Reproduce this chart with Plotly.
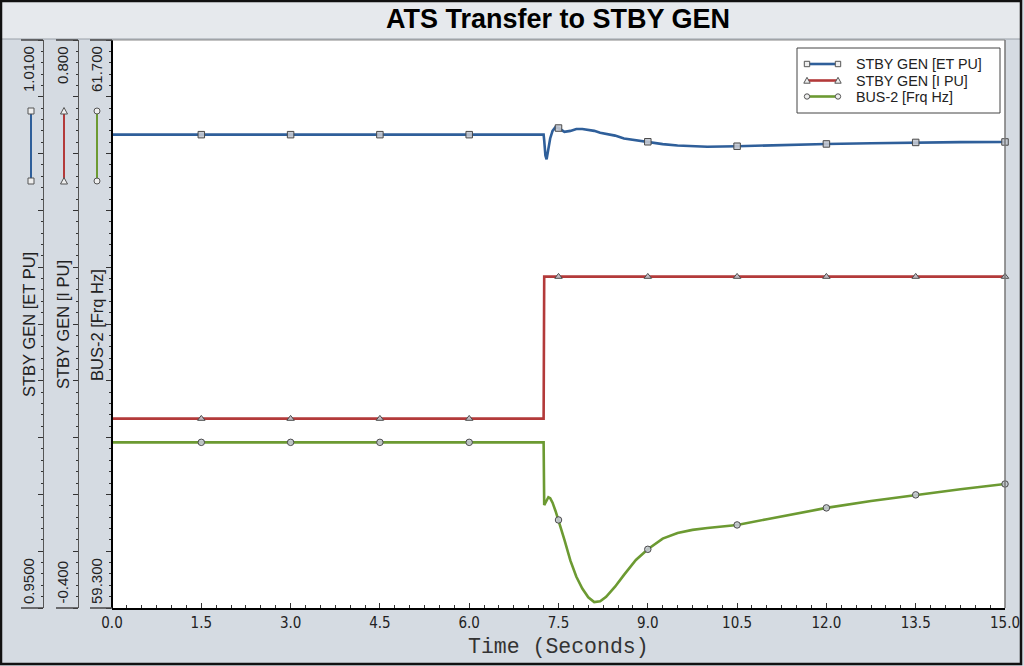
import plotly.graph_objects as go

# ---------------- data ----------------
time_s = [0.0, 1.5, 3.0, 4.5, 6.0, 7.2, 7.25, 7.26, 7.28, 7.3, 7.33, 7.36, 7.4, 7.45,
          7.5, 7.6, 7.7, 7.8, 7.9, 8.0, 8.1, 8.2, 8.3, 8.45, 8.6, 8.8, 9.0, 9.25,
          9.5, 9.75, 10.0, 10.5, 11.0, 11.5, 12.0, 12.75, 13.5, 14.25, 15.0]

stby_et_pu = [1.0000, 1.0000, 1.0000, 1.0000, 1.0000, 1.0000, 1.0000, 0.9994, 0.9978,
              0.9974, 0.9984, 0.9996, 1.0004, 1.0008, 1.0007, 1.0003, 1.0004, 1.0006,
              1.0006, 1.0005, 1.0004, 1.0002, 1.0001, 0.9999, 0.9996, 0.9994, 0.99925,
              0.9990, 0.99885, 0.99875, 0.99872, 0.99878, 0.99888, 0.99895, 0.99902,
              0.9991, 0.99918, 0.99921, 0.99923]

stby_i_pu = [0.0, 0.0, 0.0, 0.0, 0.0, 0.0, 0.0, 0.3, 0.3, 0.3, 0.3, 0.3, 0.3, 0.3,
             0.3, 0.3, 0.3, 0.3, 0.3, 0.3, 0.3, 0.3, 0.3, 0.3, 0.3, 0.3, 0.3, 0.3,
             0.3, 0.3, 0.3, 0.3, 0.3, 0.3, 0.3, 0.3, 0.3, 0.3, 0.3]

bus2_frq_hz = [60.0, 60.0, 60.0, 60.0, 60.0, 60.0, 60.0, 59.735, 59.745, 59.758,
               59.768, 59.764, 59.745, 59.71, 59.672, 59.588, 59.500, 59.432, 59.382,
               59.345, 59.325, 59.328, 59.347, 59.39, 59.44, 59.503, 59.548, 59.593,
               59.617, 59.630, 59.638, 59.651, 59.675, 59.70, 59.723, 59.752, 59.778,
               59.802, 59.824]

series_names = ["STBY GEN [ET PU]", "STBY GEN [I PU]", "BUS-2 [Frq Hz]"]
axis_ranges = {"et": [0.95, 1.01], "i": [-0.4, 0.8], "frq": [59.3, 61.7]}
top_labels = ["1.0100", "0.800", "61.700"]
bottom_labels = ["0.9500", "-0.400", "59.300"]
title_text = "ATS Transfer to STBY GEN"
x_title = "Time (Seconds)"

# ---------------- styling helpers ----------------
W, H = 1024, 666
def px(x):
    return x / W
def py(y):
    return 1 - y / H

BLUE, RED, GREEN = "#2f5f9a", "#b33a3a", "#6c9a32"
FONT = "Liberation Sans, Arial, sans-serif"
PLOT_L, PLOT_R, PLOT_T, PLOT_B = 112, 1005, 40, 608
ydom = [py(PLOT_B), py(PLOT_T)]

mark_idx = [i for i, t in enumerate(time_s) if t > 0 and abs(t / 1.5 - round(t / 1.5)) < 1e-9]

fig = go.Figure()

specs = [
    (stby_et_pu, "y2", BLUE, "square"),
    (stby_i_pu, "y3", RED, "triangle-up"),
    (bus2_frq_hz, "y", GREEN, "circle"),
]
for (vals, ax, col, sym), name in zip(specs, series_names):
    fig.add_trace(go.Scatter(x=time_s, y=vals, yaxis=ax, mode="lines", name=name,
                             line=dict(color=col, width=2.6), showlegend=False,
                             hoverinfo="skip"))
    fig.add_trace(go.Scatter(x=[time_s[i] for i in mark_idx], y=[vals[i] for i in mark_idx],
                             yaxis=ax, mode="markers", showlegend=False, cliponaxis=False,
                             marker=dict(symbol=sym, size=6.5, color="rgba(195,200,208,0.9)",
                                         line=dict(color="#4a4a4a", width=1))))

tick_col = "#333"
common_y = dict(domain=ydom, showgrid=False, zeroline=False, showticklabels=False,
                ticks="outside", ticklen=5, tickwidth=1, tickcolor=tick_col, showline=True,
                automargin=False)

fig.update_layout(
    width=W, height=H, showlegend=False,
    margin=dict(l=0, r=0, t=0, b=0, pad=0, autoexpand=False),
    paper_bgcolor="#d5dbe2",
    plot_bgcolor="white",
    title=dict(text="<b>" + title_text + "</b>", x=px(558), y=py(19), xanchor="center",
               yanchor="middle", font=dict(family=FONT, size=27, color="#000")),
    xaxis=dict(domain=[px(PLOT_L), px(PLOT_R)], range=[0, 15], anchor="y", automargin=False,
               showgrid=False, zeroline=False, showline=True, linecolor="#000", linewidth=2,
               ticks="inside", ticklen=5, tickcolor=tick_col, tick0=0, dtick=1.5,
               tickformat=".1f",
               minor=dict(ticks="inside", ticklen=3, tickcolor=tick_col, dtick=0.25, tick0=0),
               tickfont=dict(family="Liberation Sans Narrow, DejaVu Sans Condensed, Roboto Condensed, Arial Narrow, Liberation Sans",
                             size=15, color="#222")),
    yaxis=dict(range=axis_ranges["frq"], anchor="free", position=px(PLOT_L),
               linecolor="#000", linewidth=2, tick0=59.3, dtick=0.24,
               minor=dict(ticks="outside", ticklen=2.5, tickcolor=tick_col, dtick=0.048, tick0=59.3),
               **common_y),
    yaxis2=dict(range=axis_ranges["et"], anchor="free", position=px(43), overlaying="y",
                linecolor="#555", linewidth=1, tick0=0.95, dtick=0.006,
                minor=dict(ticks="outside", ticklen=2.5, tickcolor=tick_col, dtick=0.0012, tick0=0.95),
                **common_y),
    yaxis3=dict(range=axis_ranges["i"], anchor="free", position=px(78), overlaying="y",
                linecolor="#555", linewidth=1, tick0=-0.4, dtick=0.12,
                minor=dict(ticks="outside", ticklen=2.5, tickcolor=tick_col, dtick=0.024, tick0=-0.4),
                **common_y),
)

shapes = []
ann = []


def glyph(kind, gx, gy, r=3.0):
    if kind == "sq":
        return dict(type="rect", xref="paper", yref="paper", x0=px(gx - r), x1=px(gx + r),
                    y0=py(gy + r), y1=py(gy - r), fillcolor="#eeeeee",
                    line=dict(color="#555", width=1))
    if kind == "circ":
        return dict(type="circle", xref="paper", yref="paper", x0=px(gx - r), x1=px(gx + r),
                    y0=py(gy + r), y1=py(gy - r), fillcolor="#eeeeee",
                    line=dict(color="#555", width=1))
    path = "M {} {} L {} {} L {} {} Z".format(px(gx - r - 0.5), py(gy + r), px(gx + r + 0.5), py(gy + r),
                                              px(gx), py(gy - r - 0.5))
    return dict(type="path", xref="paper", yref="paper", path=path,
                fillcolor="#eeeeee", line=dict(color="#555", width=1))


# title strip
shapes.append(dict(type="rect", xref="paper", yref="paper", x0=px(2), x1=px(1020),
                   y0=py(39), y1=py(2), fillcolor="#e6e9ed", line=dict(width=0), layer="below"))
shapes.append(dict(type="line", xref="paper", yref="paper", x0=px(2), x1=px(1020),
                   y0=py(39), y1=py(39), line=dict(color="#9aa0a8", width=1)))
# plot top and right borders
shapes.append(dict(type="line", xref="paper", yref="paper", x0=px(PLOT_L), x1=px(PLOT_R),
                   y0=py(PLOT_T), y1=py(PLOT_T), line=dict(color="#888", width=1)))
shapes.append(dict(type="line", xref="paper", yref="paper", x0=px(PLOT_R), x1=px(PLOT_R),
                   y0=py(PLOT_T), y1=py(PLOT_B), line=dict(color="#777", width=1.5)))
# axis brackets
for axx in (43, 78, PLOT_L):
    for yy in (PLOT_T, PLOT_B):
        shapes.append(dict(type="line", xref="paper", yref="paper", x0=px(axx - 22), x1=px(axx),
                           y0=py(yy), y1=py(yy), line=dict(color="#444", width=1.5)))

kinds = ["sq", "tri", "circ"]
colors = [BLUE, RED, GREEN]

# mini legend glyphs on each axis
gy0, gy1 = 111, 181
for gx, gc, kind in zip([31, 64, 97], colors, kinds):
    shapes.append(dict(type="line", xref="paper", yref="paper", x0=px(gx), x1=px(gx),
                       y0=py(gy0), y1=py(gy1), line=dict(color=gc, width=2)))
    for gy in (gy0, gy1):
        shapes.append(glyph(kind, gx, gy))

# legend box (drawn manually to match the reference layout)
shapes.append(dict(type="rect", xref="paper", yref="paper", x0=px(797), x1=px(1000),
                   y0=py(113), y1=py(48), fillcolor="white", line=dict(color="#444", width=1)))
for ly, gc, kind, name in zip([64, 80.5, 96.5], colors, kinds, series_names):
    shapes.append(dict(type="line", xref="paper", yref="paper", x0=px(807), x1=px(838),
                       y0=py(ly), y1=py(ly), line=dict(color=gc, width=2.6)))
    shapes.append(glyph(kind, 807, ly, 2.7))
    shapes.append(glyph(kind, 838, ly, 2.7))
    ann.append(dict(text=name, xref="paper", yref="paper", x=px(854), y=py(ly), xanchor="left",
                    yanchor="middle", showarrow=False,
                    font=dict(family=FONT, size=14.3, color="#222")))

# outer frame
shapes.append(dict(type="rect", xref="paper", yref="paper", x0=px(1), x1=px(1021),
                   y0=py(664), y1=py(1), line=dict(color="#111", width=2.5)))
fig.update_layout(shapes=shapes)

num_font = dict(family=FONT, size=15, color="#222")
ttl_font = dict(family=FONT, size=16.5, color="#222")
for lx, t in zip([29, 63, 97], top_labels):
    ann.append(dict(text=t, xref="paper", yref="paper", x=px(lx), y=py(44), xanchor="center",
                    yanchor="top", textangle=-90, showarrow=False, font=num_font))
for lx, t in zip([28, 62, 96], bottom_labels):
    ann.append(dict(text=t, xref="paper", yref="paper", x=px(lx), y=py(606), xanchor="center",
                    yanchor="bottom", textangle=-90, showarrow=False, font=num_font))
for lx, t in zip([29, 63, 97], series_names):
    ann.append(dict(text=t, xref="paper", yref="paper", x=px(lx), y=py(325), xanchor="center",
                    yanchor="middle", textangle=-90, showarrow=False, font=ttl_font))
ann.append(dict(text=x_title, xref="paper", yref="paper", x=px(558), y=py(647), xanchor="center",
                yanchor="middle", showarrow=False,
                font=dict(family="Liberation Mono, Courier New, monospace", size=21.5, color="#333")))
fig.update_layout(annotations=ann)

fig.write_html("out.html")
